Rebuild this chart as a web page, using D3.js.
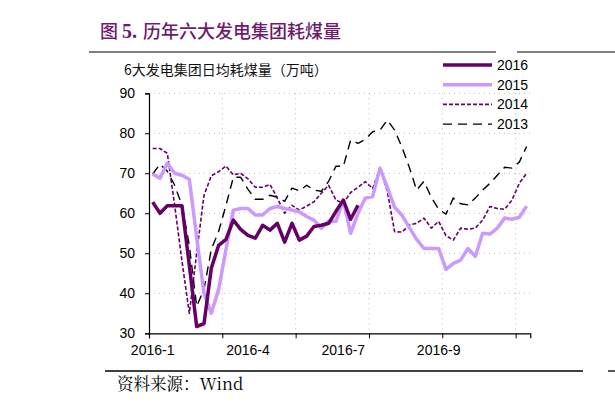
<!DOCTYPE html>
<html><head><meta charset="utf-8">
<script src="https://cdn.jsdelivr.net/npm/d3@7"></script>
<style>body{margin:0;background:#fff}svg{display:block}</style>
</head><body>
<script>
const titleParts = [["图", "cjk", 100], ["5.", "serif", 122], ["历年六大发电集团耗煤量", "cjk", 143]];
const subtitle = "6大发电集团日均耗煤量（万吨）";
const source = "资料来源：Wind";
const seriesNames = ["2016", "2015", "2014", "2013"];
const xLabels = ["2016-1", "2016-4", "2016-7", "2016-9"];
const xLabelIdx = [0, 13, 26, 39];
const yTicks = [30, 40, 50, 60, 70, 80, 90];
const weeks = d3.range(52);

const v2016 = [62.8,60,61.9,61.9,61.9,47,31.7,32.4,46.3,52,53.5,58.3,56,54.5,53.8,57,55.8,57.5,52.8,57.5,53.3,54.3,56.7,57,57.5,60.5,63.3,58.5,62];
const v2015 = [69.8,68.8,72.5,70,69.5,68.5,54,40,35,41,51,60.8,61.2,61.2,59.6,59.6,61.2,61.7,61.2,60.8,60.4,59.2,58.3,56.3,58,58,63.3,55,60,63.8,64.2,71.3,66.5,61.5,59.5,56.5,53.5,51.2,51.2,51.2,46,47.5,48.3,51.2,49.2,55,54.8,56.3,58.8,58.5,59,61.8];
const v2014 = [76.2,76.2,75,62,48,35,50,64.5,69.4,70.4,71.8,69.6,70,68.6,66.5,66.5,67.2,63.8,60,62,60.8,61.8,62.9,65,67,63.3,62.5,65.2,66.5,67.9,66.2,71.3,65.5,55.4,55.3,57.1,57.5,58.8,56.3,58,54.4,53.3,56.3,56,56.3,58.3,61.7,61.2,61,63.3,67.5,70];
const v2013 = [69.8,72.3,70.5,67,62,52,36.7,41,51,55.5,62,69,69,66,63.5,63.5,64.5,64,63,66.3,65.6,67,65.8,65.5,68,71.8,71.7,78.3,77.5,78.5,80.4,80.8,83.3,80.8,76.5,71.5,65.8,68,64,61,59.8,63.8,62.4,62.1,63.8,65.8,67.5,69.5,71.5,71.3,72.8,76.7];

const series = [
  {name:"2013", values:v2013, color:"#000000", width:1.4, dash:"9,6"},
  {name:"2014", values:v2014, color:"#660066", width:1.6, dash:"4,2"},
  {name:"2015", values:v2015, color:"#CC99FF", width:3.5, dash:null},
  {name:"2016", values:v2016, color:"#660066", width:3.5, dash:null}
];

const W = 615, H = 414;
const svg = d3.select("body").append("svg").attr("width", W).attr("height", H);

const x0 = 149, x1 = 530.3, yTop = 93.3, yBot = 333.3;
const x = d3.scaleBand().domain(weeks).range([x0, x1]).padding(0);
const xLin = d3.scaleLinear().domain([0, 52]).range([x0, x1]);
const y = d3.scaleLinear().domain([30, 90]).range([yBot, yTop]);

// title
titleParts.forEach(([s, f, tx]) => {
  svg.append("text").attr("x", tx).attr("y", 38).attr("fill", "#6E1A6E")
    .attr("font-size", f === "serif" ? 20 : 18)
    .attr("font-family", f === "serif" ? "'Liberation Serif', serif" : "'Noto Sans CJK SC', sans-serif")
    .attr("font-weight", f === "serif" ? "bold" : "500")
    .text(s);
});
svg.append("line").attr("x1", 89).attr("x2", 496).attr("y1", 52).attr("y2", 52)
  .attr("stroke", "#555").attr("stroke-width", 1.5);
svg.append("line").attr("x1", 517).attr("x2", 615).attr("y1", 52).attr("y2", 52)
  .attr("stroke", "#555").attr("stroke-width", 1.5);

// subtitle
svg.append("text").attr("x", 124).attr("y", 75)
  .attr("font-family", "'Noto Sans CJK SC', sans-serif").attr("font-size", 14)
  .attr("fill", "#111").text(subtitle);

// gridlines
const grid = svg.append("g");
grid.selectAll("line.h").data(yTicks.filter(d => d > 30)).join("line")
  .attr("x1", x0).attr("x2", x1).attr("y1", d => y(d)).attr("y2", d => y(d))
  .attr("stroke", "#bbb").attr("stroke-width", 1).attr("stroke-dasharray", "1,4");
grid.selectAll("line.v").data([10, 20, 30, 40, 50]).join("line")
  .attr("x1", d => xLin(d)).attr("x2", d => xLin(d)).attr("y1", yTop).attr("y2", yBot)
  .attr("stroke", "#bbb").attr("stroke-width", 1).attr("stroke-dasharray", "1,4");

// y axis
const yAxis = svg.append("g").attr("transform", `translate(${x0},0)`)
  .call(d3.axisLeft(y).tickValues(yTicks).tickSize(4).tickPadding(10));
yAxis.selectAll("text").attr("font-family", "Arial, 'Liberation Sans', sans-serif").attr("font-size", 14).attr("fill", "#000");
yAxis.select(".domain").attr("stroke", "#000").attr("stroke-width", 1.2);
yAxis.selectAll(".tick line").attr("stroke", "#000");

// x axis ticks
const xAxis = svg.append("g").attr("transform", `translate(0,${yBot})`)
  .call(d3.axisBottom(xLin).tickValues([0, 10, 20, 30, 40, 50]).tickSize(5).tickFormat(""));
xAxis.select(".domain").attr("stroke", "#000").attr("stroke-width", 1.2);
xAxis.selectAll(".tick line").attr("stroke", "#000");
const xLab = svg.append("g").attr("transform", `translate(0,${yBot})`)
  .call(d3.axisBottom(x).tickValues(xLabelIdx).tickSize(0).tickPadding(12)
    .tickFormat((d) => xLabels[xLabelIdx.indexOf(d)]));
xLab.select(".domain").remove();
xLab.selectAll("text").attr("font-family", "Arial, 'Liberation Sans', sans-serif").attr("font-size", 14).attr("fill", "#000");

// lines
const line = d3.line().x((d, i) => x(i) + x.bandwidth() / 2).y(d => y(d));
series.forEach(s => {
  svg.append("path").datum(s.values).attr("d", line)
    .attr("fill", "none").attr("stroke", s.color).attr("stroke-width", s.width)
    .attr("stroke-dasharray", s.dash).attr("stroke-linejoin", "round");
});

// legend
const legOrder = ["2016", "2015", "2014", "2013"];
const leg = svg.append("g");
legOrder.forEach((n, k) => {
  const s = series.find(t => t.name === n);
  const ly = 65 + k * 19.7;
  leg.append("line").attr("x1", 443).attr("x2", 492).attr("y1", ly).attr("y2", ly)
    .attr("stroke", s.color).attr("stroke-width", s.width).attr("stroke-dasharray", s.dash);
  leg.append("text").attr("x", 497).attr("y", ly + 5)
    .attr("font-family", "Arial, 'Liberation Sans', sans-serif").attr("font-size", 14)
    .attr("fill", "#000").text(n);
});

// bottom rule & source
svg.append("line").attr("x1", 105).attr("x2", 583).attr("y1", 371).attr("y2", 371)
  .attr("stroke", "#000").attr("stroke-width", 1.3);
svg.append("line").attr("x1", 608).attr("x2", 615).attr("y1", 371).attr("y2", 371)
  .attr("stroke", "#000").attr("stroke-width", 1.3);
svg.append("text").attr("x", 117).attr("y", 390)
  .attr("font-family", "'Noto Serif CJK SC', 'Liberation Serif', serif").attr("font-size", 16.5)
  .attr("fill", "#000").text(source);
</script>
</body></html>
